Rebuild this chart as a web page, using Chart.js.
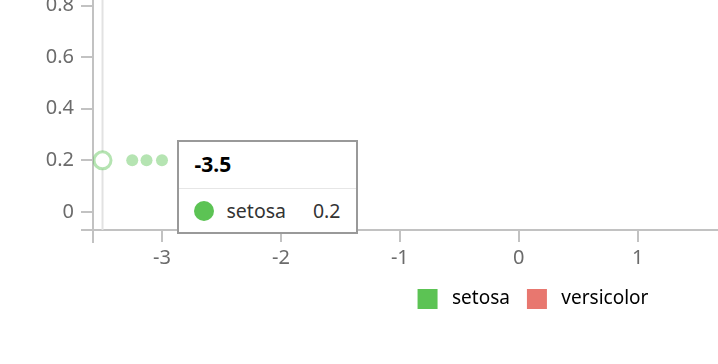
<!DOCTYPE html>
<html>
<head>
<meta charset="utf-8">
<title>iris scatter</title>
<script src="https://cdn.jsdelivr.net/npm/chart.js"></script>
<style>
    html, body { margin: 0; padding: 0; background: #fff; }
    #wrap { position: relative; width: 718px; height: 364px; overflow: hidden; }
    /* the picture is a crop of a bigger chart, so the canvas is bigger than the window */
    #inner { position: absolute; left: 0; top: -65px; width: 1066px; height: 384px; }
    #tip {
        position: absolute; display: none; width: 181px; box-sizing: border-box;
        background: #fff; border: 2px solid #999;
        font-family: 'Noto Sans', sans-serif;
    }
    #tip .t { height: 46px; line-height: 44px; padding: 0 16px; font-weight: bold; font-size: 21px; color: #000; }
    #tip .sep { height: 1px; background: #e6e6e6; }
    #tip .b { height: 43px; display: flex; align-items: center; padding: 0 15px; font-size: 19.5px; color: #333; }
    #tip .dot { width: 20px; height: 20px; border-radius: 50%; margin-right: 13px; }
    #tip .n { flex: 1; }
</style>
</head>
<body>
<div id="wrap">
    <div id="inner"><canvas id="chart"></canvas></div>
    <div id="tip"></div>
</div>

<script>
// data
const seriesNames = ['setosa', 'versicolor'];
const setosaX = [-3.5, -3.25, -3.13, -3.0];
const setosaY = [0.2, 0.2, 0.2, 0.2];
const versicolorX = [];
const versicolorY = [];

const seriesColors = ['#5cc354', '#e8776f'];
const fadedColors = ['rgba(92,195,84,0.45)', 'rgba(232,119,111,0.45)'];
const axisColor = '#c2c2c2';
const tickFont = { family: "'Noto Sans', sans-serif", size: 20 };

const toPoints = (xs, ys) => xs.map((x, i) => ({ x: x, y: ys[i] }));

// crosshair on the hovered point, and the little axis overhangs
const axisExtras = {
    id: 'axisExtras',
    beforeDatasetsDraw(chart) {
        const act = chart.getActiveElements();
        if (!act.length) return;
        const { ctx, chartArea } = chart;
        const x = act[0].element.x;
        ctx.save();
        ctx.strokeStyle = '#e2e2e2';
        ctx.lineWidth = 2;
        ctx.beginPath();
        ctx.moveTo(x, chartArea.top);
        ctx.lineTo(x, chartArea.bottom);
        ctx.stroke();
        ctx.restore();
    },
    afterDraw(chart) {
        const { ctx, chartArea } = chart;
        ctx.save();
        ctx.strokeStyle = axisColor;
        ctx.lineWidth = 2;
        ctx.beginPath();
        ctx.moveTo(chartArea.left, chartArea.bottom);
        ctx.lineTo(chartArea.left, chartArea.bottom + 13);
        ctx.moveTo(chartArea.left, chartArea.bottom);
        ctx.lineTo(chartArea.left - 12, chartArea.bottom);
        ctx.stroke();
        ctx.restore();
    }
};

// html tooltip with a divider under the title
function externalTip(context) {
    const tt = context.tooltip;
    const el = document.getElementById('tip');
    if (tt.opacity === 0 || !tt.dataPoints || !tt.dataPoints.length) { el.style.display = 'none'; return; }
    const dp = tt.dataPoints[0];
    const ci = dp.datasetIndex;
    el.innerHTML =
        '<div class="t">' + dp.parsed.x + '</div><div class="sep"></div>' +
        '<div class="b"><span class="dot" style="background:' + seriesColors[ci] + '"></span>' +
        '<span class="n">' + dp.dataset.label + '</span><span class="v">' + dp.parsed.y + '</span></div>';
    const off = document.getElementById('inner').offsetTop;
    el.style.left = (tt.caretX + 74) + 'px';
    el.style.top = (tt.caretY + off - 20) + 'px';
    el.style.display = 'block';
}

const chart = new Chart(document.getElementById('chart'), {
    type: 'scatter',
    data: {
        datasets: [{
            label: seriesNames[0],
            data: toPoints(setosaX, setosaY),
            backgroundColor: fadedColors[0],
            borderWidth: 0,
            pointRadius: 6,
            pointHoverRadius: 8.5,
            pointHoverBackgroundColor: '#fff',
            pointHoverBorderColor: fadedColors[0],
            pointHoverBorderWidth: 3
        }, {
            label: seriesNames[1],
            data: toPoints(versicolorX, versicolorY),
            backgroundColor: fadedColors[1],
            borderWidth: 0,
            pointRadius: 6
        }]
    },
    options: {
        responsive: true,
        maintainAspectRatio: false,
        animation: false,
        events: [],
        layout: { padding: 0 },
        plugins: {
            legend: {
                position: 'bottom',
                labels: {
                    boxWidth: 20,
                    boxHeight: 20,
                    padding: 17,
                    color: '#555',
                    font: { family: "'Noto Sans', sans-serif", size: 19 },
                    // leading space widens the gap between swatch and name
                    generateLabels: () => seriesNames.map((n, i) => ({
                        text: ' ' + n, fillStyle: seriesColors[i], strokeStyle: seriesColors[i],
                        lineWidth: 0, datasetIndex: i, hidden: false
                    }))
                }
            },
            tooltip: { enabled: false, external: externalTip }
        },
        scales: {
            x: {
                type: 'linear',
                min: -3.58,
                max: 4.53,
                grid: { drawOnChartArea: false, drawTicks: true, tickLength: 12, color: axisColor, lineWidth: 2 },
                border: { color: axisColor, width: 2 },
                ticks: { stepSize: 1, includeBounds: false, padding: 4, color: '#6b6b6b', font: tickFont },
                afterFit: s => { s.height = 42; }
            },
            y: {
                min: -0.07,
                max: 1.0,
                grid: { drawOnChartArea: false, drawTicks: true, tickLength: 12, color: axisColor, lineWidth: 2 },
                border: { color: axisColor, width: 2 },
                ticks: { stepSize: 0.2, includeBounds: false, padding: 7, color: '#6b6b6b', font: tickFont },
                afterFit: s => { s.width = 93; }
            }
        }
    },
    plugins: [axisExtras]
});

// hover state shown in the picture: first setosa point
const active = [{ datasetIndex: 0, index: 0 }];
chart.setActiveElements(active);
const p = chart.getDatasetMeta(0).data[0];
chart.tooltip.setActiveElements(active, { x: p.x, y: p.y });
chart.update();
</script>
</body>
</html>
